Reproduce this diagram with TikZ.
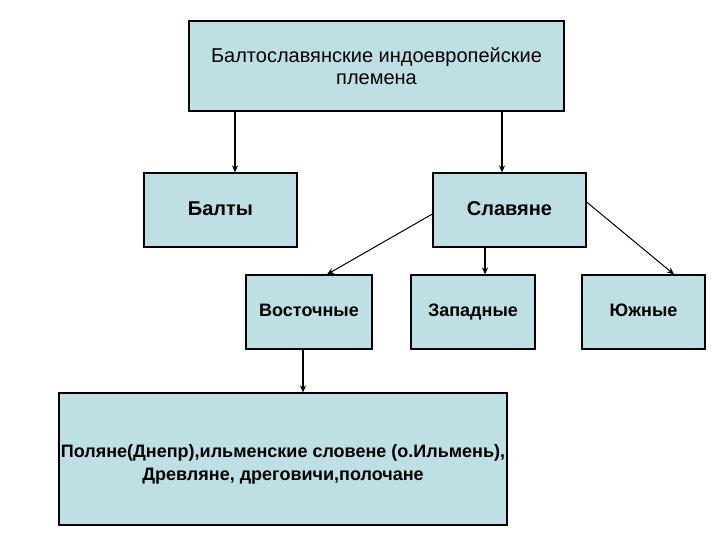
\documentclass[tikz,border=0pt]{standalone}
\usepackage{fontspec}
\setmainfont{Liberation Sans}
\usetikzlibrary{arrows.meta}
\definecolor{boxfill}{RGB}{190,223,228}
\tikzset{
  box/.style={draw=black, line width=1.2pt, fill=boxfill, inner sep=0pt, align=center},
  single/.style={text height=0.72em+#1, text depth=0pt},
  single/.default=0pt,
  arr/.style={line width=1.3pt, -{Stealth[length=7pt,width=6pt]}},
  darr/.style={line width=1pt, -{Stealth[length=7pt,width=6pt]}}
}
\begin{document}
\begin{tikzpicture}[x=1pt,y=-1pt]
\useasboundingbox (0,0) rectangle (720,540);
\node[box, minimum width=375pt, minimum height=90pt, font=\fontsize{20}{22}\selectfont] (top) at (376.5,66) {\raisebox{-3pt}[\height][\depth]{\begin{tabular}{@{}c@{}}Балтославянские индоевропейские\\[-0.5pt]племена\end{tabular}}};
\node[box, single=4pt, minimum width=153pt, minimum height=74pt, font=\bfseries\fontsize{20}{22}\selectfont] (balty) at (220.5,210) {Балты};
\node[box, single=4pt, minimum width=153pt, minimum height=74pt, font=\bfseries\fontsize{20}{22}\selectfont] (slav) at (509.5,210) {Славяне};
\node[box, single=2pt, minimum width=126pt, minimum height=74pt, font=\bfseries\fontsize{18}{20}\selectfont] (vost) at (309,312) {Восточные};
\node[box, single=2pt, minimum width=124pt, minimum height=74pt, font=\bfseries\fontsize{18}{20}\selectfont] (zap) at (473,312) {Западные};
\node[box, single=2pt, minimum width=123pt, minimum height=74pt, font=\bfseries\fontsize{18}{20}\selectfont] (yuzh) at (643.5,312) {Южные};
\node[box, minimum width=448pt, minimum height=132pt, font=\bfseries\fontsize{18}{24}\selectfont] (bot) at (283,459) {\raisebox{-5pt}[\height][\depth]{\begin{tabular}{@{}c@{}}Поляне(Днепр),ильменские словене (о.Ильмень),\\[-1pt]Древляне, дреговичи,полочане\end{tabular}}};
\coordinate (c1) at (235,0);
\coordinate (c2) at (502,0);
\coordinate (c3) at (485,0);
\coordinate (c4) at (303,0);
\draw[arr] (top.south -| c1) -- (balty.north -| c1);
\draw[arr] (top.south -| c2) -- (slav.north -| c2);
\draw[darr] ([yshift=-4pt]slav.west) -- ([xshift=18pt]vost.north);
\draw[arr] (slav.south -| c3) -- (zap.north -| c3);
\draw[darr] ([yshift=8pt]slav.east) -- ([xshift=30.5pt]yuzh.north);
\draw[arr] (vost.south -| c4) -- (bot.north -| c4);
\end{tikzpicture}
\end{document}
